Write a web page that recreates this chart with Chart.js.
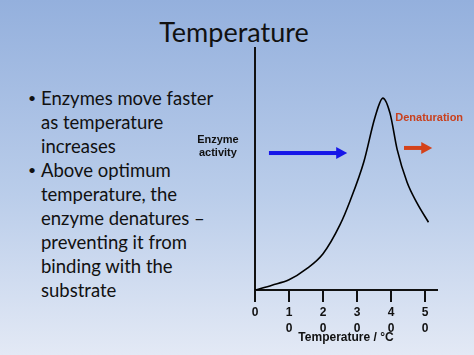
<!DOCTYPE html>
<html>
<head>
<meta charset="utf-8">
<script src="https://cdn.jsdelivr.net/npm/chart.js@4.4.0/dist/chart.umd.min.js"></script>
<style>
    html, body { margin: 0; padding: 0; }
    body {
        width: 474px; height: 355px; overflow: hidden; position: relative;
        background: linear-gradient(to bottom, #94b0dd 0%, #bacdea 55%, #e3e9f5 100%);
        font-family: "Lato", "Open Sans", sans-serif; color: #111;
    }
    #titulo {
        position: absolute; left: 0; top: 15px; width: 468px;
        text-align: center; font-size: 27px; line-height: 34px;
    }
    #puntos {
        position: absolute; left: 41px; top: 86px; margin: 0; padding: 0;
        list-style: none; font-size: 18.5px; line-height: 24px; white-space: nowrap;
    }
    #puntos li { position: relative; }
    #puntos li::before { content: "\2022"; position: absolute; left: -13px; font-size: 14px; }
    #grafico { position: absolute; left: 0; top: 0; }
</style>
</head>
<body>
<div id="titulo">Temperature</div>
<ul id="puntos">
    <li>Enzymes move faster<br>as temperature<br>increases</li>
    <li>Above optimum<br>temperature, the<br>enzyme denatures –<br>preventing it from<br>binding with the<br>substrate</li>
</ul>
<canvas id="grafico" width="474" height="355"></canvas>
<script>
// Datos
const temperaturas = [0, 5, 10, 15, 20, 25, 28, 32, 35.3, 37.6, 39.7, 41.8, 44.7, 47.6, 51];
const actividad = [0, 2, 4.2, 8.6, 15, 27, 37, 53, 71.5, 79.3, 73, 58, 44.5, 36, 28];
const ticksX = [0, 10, 20, 30, 40, 50];
const etiquetasX = [['0'], ['1', '0'], ['2', '0'], ['3', '0'], ['4', '0'], ['5', '0']];

// Flechas y rotulos (en unidades de los ejes)
const flechas = [
    { x0: 4.1, x1: 27.1, y: 56.6, color: '#1616e8' },
    { x0: 43.8, x1: 52.1, y: 58.7, color: '#d4421a' }
];
const rotulos = [
    { texto: 'Denaturation', x: 51.2, y: 71.1, color: '#c9401d' },
    { texto: 'Enzyme', x: -10.9, y: 62, color: '#111' },
    { texto: 'activity', x: -10.9, y: 56.6, color: '#111' }
];

const fuenteEje = { family: '"Liberation Sans", Arial, sans-serif', size: 12, weight: 'bold' };

const anotaciones = {
    id: 'anotaciones',
    afterDraw(chart) {
        const ctx = chart.ctx;
        const sx = chart.scales.x, sy = chart.scales.y;
        ctx.save();
        flechas.forEach(f => {
            const x0 = sx.getPixelForValue(f.x0);
            const x1 = sx.getPixelForValue(f.x1);
            const y = sy.getPixelForValue(f.y);
            ctx.fillStyle = f.color;
            ctx.fillRect(x0, y - 2, x1 - x0 - 10, 4);
            ctx.beginPath();
            ctx.moveTo(x1, y);
            ctx.lineTo(x1 - 11, y - 6);
            ctx.lineTo(x1 - 11, y + 6);
            ctx.closePath();
            ctx.fill();
        });
        ctx.font = 'bold 11px "Liberation Sans", Arial, sans-serif';
        ctx.textAlign = 'center';
        ctx.textBaseline = 'middle';
        rotulos.forEach(r => {
            ctx.fillStyle = r.color;
            ctx.fillText(r.texto, sx.getPixelForValue(r.x), sy.getPixelForValue(r.y));
        });
        ctx.restore();
    }
};

new Chart(document.getElementById('grafico'), {
    type: 'line',
    data: {
        datasets: [{
            data: temperaturas.map((t, i) => ({ x: t, y: actividad[i] })),
            borderColor: '#000',
            borderWidth: 1.6,
            pointRadius: 0,
            cubicInterpolationMode: 'monotone',
            fill: false
        }]
    },
    options: {
        responsive: false,
        animation: false,
        layout: { padding: { left: 255, top: 48, right: 37, bottom: 0 } },
        plugins: { legend: { display: false }, tooltip: { enabled: false } },
        scales: {
            x: {
                type: 'linear', min: 0, max: 53.5,
                afterFit: s => { s.height = 65; },
                afterBuildTicks: s => { s.ticks = ticksX.map(v => ({ value: v })); },
                ticks: {
                    callback: (v, i) => etiquetasX[i],
                    color: '#111', font: { ...fuenteEje, lineHeight: 1.3 },
                    padding: 3, maxRotation: 0, autoSkip: false
                },
                grid: { drawOnChartArea: false, drawTicks: true, tickLength: 12, color: '#111', lineWidth: 2 },
                border: { display: true, color: '#111', width: 2 },
                title: {
                    display: true, text: 'Temperature / °C', color: '#111',
                    font: { ...fuenteEje, lineHeight: 1.2 }, padding: { top: 0, bottom: 10 }
                }
            },
            y: {
                min: 0, max: 100,
                afterFit: s => { s.width = 0; },
                ticks: { display: false },
                grid: { drawOnChartArea: false, drawTicks: false },
                border: { display: true, color: '#111', width: 2 }
            }
        }
    },
    plugins: [anotaciones]
});
</script>
</body>
</html>
